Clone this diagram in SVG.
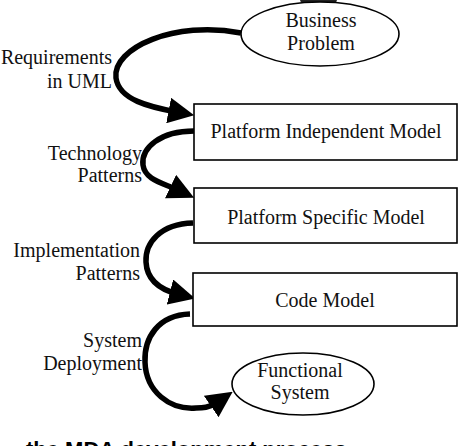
<svg xmlns="http://www.w3.org/2000/svg" width="474" height="446" viewBox="0 0 474 446">
<defs>
<style>
.box{fill:#fff;stroke:#000;stroke-width:1.6}
.lbl{font-family:"Liberation Serif","Times New Roman",serif;font-size:20px;fill:#111}
.c{text-anchor:middle}
.r{text-anchor:end}
.arr{fill:none;stroke:#000;stroke-width:5.5;marker-end:url(#ah)}
.cap{font-family:"Liberation Sans",Arial,sans-serif;font-weight:bold;font-size:22px;fill:#000}
</style>
<marker id="ah" markerUnits="userSpaceOnUse" markerWidth="26" markerHeight="26" refX="8" refY="13" orient="auto">
<path d="M0,0 L26,13 L0,26 z" fill="#000"/>
</marker>
</defs>
<rect width="474" height="446" fill="#fff"/>
<path d="M300,0 L337,0 L336,2.5 Q318,1.5 301,2.5 z" fill="#222"/>
<g id="connectors">
<path class="arr" d="M241,33 C175,20 112,48 116,78 C119,100 150,107 176.5,112"/>
<path class="arr" d="M194,131 C160,131 141,148 143,165 C145,180 163,183 177.8,190"/>
<path class="arr" d="M193,223 C160,224 145,243 146,262 C147,282 162,290 177.7,294"/>
<path class="arr" d="M190,314 C158,315 144,338 145,362 C146,392 170,410 196,408 C202,408 209,408 217.8,402"/>
</g>
<g id="business-problem">
<ellipse class="box" cx="320" cy="34" rx="79" ry="32"/>
<text class="lbl c" x="321" y="27">Business</text>
<text class="lbl c" x="321" y="50">Problem</text>
</g>
<g id="pim">
<rect class="box" x="194" y="104" width="263" height="56"/>
<text class="lbl c" x="326" y="138">Platform Independent Model</text>
</g>
<g id="psm">
<rect class="box" x="194" y="188" width="263" height="55"/>
<text class="lbl c" x="326" y="224">Platform Specific Model</text>
</g>
<g id="code-model">
<rect class="box" x="193" y="273" width="264" height="53"/>
<text class="lbl c" x="325" y="307">Code Model</text>
</g>
<g id="functional-system">
<ellipse class="box" cx="303" cy="384" rx="71" ry="31"/>
<text class="lbl c" x="300" y="377">Functional</text>
<text class="lbl c" x="300" y="399">System</text>
</g>
<g id="labels">
<text class="lbl r" x="112" y="64">Requirements</text>
<text class="lbl r" x="112" y="88">in UML</text>
<text class="lbl r" x="142" y="160">Technology</text>
<text class="lbl r" x="142" y="182">Patterns</text>
<text class="lbl r" x="140" y="257">Implementation</text>
<text class="lbl r" x="140" y="280">Patterns</text>
<text class="lbl r" x="142" y="347">System</text>
<text class="lbl r" x="142" y="370">Deployment</text>
</g>
<text class="cap" x="26" y="457">the MDA development process</text>
</svg>
